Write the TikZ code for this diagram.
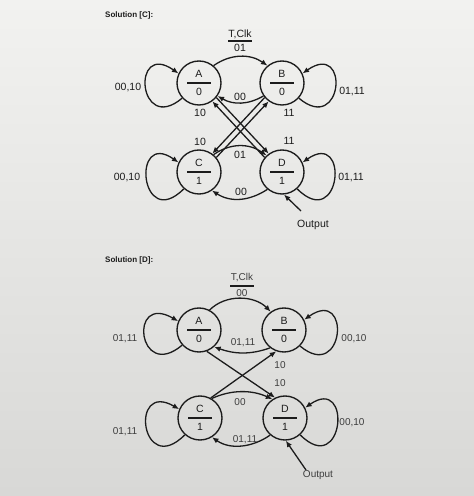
\documentclass[tikz,border=0pt]{standalone}
\usepackage{fontspec}
\setmainfont{Liberation Sans}
\usetikzlibrary{arrows.meta}
\definecolor{ink}{HTML}{1C1C1C}
\definecolor{bgtop}{HTML}{F2F2F0}
\definecolor{bgbot}{HTML}{D8D8D6}
\tikzset{
  state/.style={circle, draw=ink, line width=1.35pt, minimum size=44pt, inner sep=0pt},
  stlbl/.style={inner sep=0pt, text=ink, font=\fontsize{10.5}{12}\selectfont},
  lbl/.style={inner sep=0pt, text=ink, font=\fontsize{10.5}{12}\selectfont},
  lbltwo/.style={inner sep=0pt, text=ink!85, font=\fontsize{10}{12}\selectfont},
  ttl/.style={inner sep=0pt, anchor=west, text=ink, font=\fontsize{8}{9}\selectfont\bfseries},
  bar/.style={draw=ink, line width=1.1pt},
  arr/.style={draw=ink, line width=1.3pt, -{Latex[length=6.5pt,width=5.5pt]}},
}
\newcommand\mystate[5]{%
  \node[state] (#1) at (#2) {};
  \node[stlbl] (#1l) at ([yshift=9pt]#1.center) {#3};
  \node[stlbl] (#1d) at ([yshift=-9pt]#1.center) {#4};
  \draw[bar] ([xshift=-12pt]#1.center) -- ([xshift=12pt]#1.center);}
\begin{document}
\begin{tikzpicture}[x=1pt,y=1pt]
\shade[top color=bgtop, bottom color=bgbot] (0,0) rectangle (474,496);
\useasboundingbox (0,0) rectangle (474,496);

% ---------------- Solution [C] ----------------
\node[ttl] (t1) at (105,481) {Solution [C]:};
\node[lbl] (tc1) at (240,462) {T,Clk};
\draw[bar] (228,455) -- (252,455);
\node[lbl] (tc1v) at (240,448) {01};

\mystate{A}{199,413}{A}{0}{}
\mystate{B}{282,413}{B}{0}{}
\mystate{C}{199,324}{C}{1}{}
\mystate{D}{282,324}{D}{1}{}

% self loops
\draw[arr] (A.222) .. controls +(220:58) and +(145:58) .. (A.155);
\draw[arr] (B.-42) .. controls +(-40:58) and +(35:58) .. (B.25);
\draw[arr] (C.228) .. controls +(225:62) and +(145:58) .. (C.155);
\draw[arr] (D.-48) .. controls +(-45:62) and +(35:58) .. (D.25);

% arcs between A and B, C and D
\draw[arr] (A.50) .. controls +(35:21) and +(145:21) .. (B.130);
\draw[arr] (B.215) .. controls +(210:18) and +(-30:18) .. (A.325);
\draw[arr] (C.50) .. controls +(35:21) and +(145:21) .. (D.133);
\draw[arr] (D.230) .. controls +(213:22) and +(-33:22) .. (C.305);

% crossing double lines
\draw[arr] (A.-40) -- (D.126);
\draw[arr] (D.140) -- (A.-54);
\draw[arr] (C.40) -- (B.234);
\draw[arr] (B.220) -- (C.54);

% labels
\node[lbl] (l1) at (128,408) {00,10};
\node[lbl] (l2) at (352,404) {01,11};
\node[lbl] (l3) at (240,399) {00};
\node[lbl] (l4) at (200,383) {10};
\node[lbl] (l5) at (289,383) {11};
\node[lbl] (l6) at (200,354) {10};
\node[lbl] (l7) at (289,355) {11};
\node[lbl] (l8) at (240,341) {01};
\node[lbl] (l9) at (241,304) {00};
\node[lbl] (l10) at (127,318) {00,10};
\node[lbl] (l11) at (351,318) {01,11};

\coordinate (o1) at (301,285);
\draw[arr] (o1) -- (D.-85);
\node[lbl] (out1) at (313,271) {Output};

% ---------------- Solution [D] ----------------
\node[ttl] (t2) at (105,236) {Solution [D]:};
\node[lbltwo] (tc2) at (242,218) {T,Clk};
\draw[bar] (230,210) -- (254,210);
\node[lbltwo] (tc2v) at (242,203) {00};

\mystate{A2}{199,166}{A}{0}{}
\mystate{B2}{284,166}{B}{0}{}
\mystate{C2}{200,78}{C}{1}{}
\mystate{D2}{285,78}{D}{1}{}

\draw[arr] (A2.222) .. controls +(220:58) and +(150:58) .. (A2.157);
\draw[arr] (B2.-45) .. controls +(-40:58) and +(35:58) .. (B2.27);
\draw[arr] (C2.228) .. controls +(225:62) and +(150:58) .. (C2.157);
\draw[arr] (D2.-48) .. controls +(-45:62) and +(35:58) .. (D2.27);

\draw[arr] (A2.62) .. controls +(45:23) and +(135:23) .. (B2.126);
\draw[arr] (B2.232) .. controls +(200:21) and +(-20:21) .. (A2.312);
\draw[arr] (C2.59) .. controls +(25:22) and +(155:22) .. (D2.124);
\draw[arr] (D2.229) .. controls +(215:22) and +(-35:22) .. (C2.302);

\draw[arr] (A2.-70) -- (D2.116);
\draw[arr] (C2.62) -- (B2.250);

\node[lbltwo] (m1) at (125,157) {01,11};
\node[lbltwo] (m2) at (354,157) {00,10};
\node[lbltwo] (m3) at (243,153) {01,11};
\node[lbltwo] (m4) at (280,131) {10};
\node[lbltwo] (m5) at (280,113) {10};
\node[lbltwo] (m6) at (240,94) {00};
\node[lbltwo] (m7) at (245,56) {01,11};
\node[lbltwo] (m8) at (125,64) {01,11};
\node[lbltwo] (m9) at (352,73) {00,10};

\coordinate (o2) at (306,26);
\draw[arr] (o2) -- (D2.-88);
\node[lbltwo] (out2) at (318,21) {Output};
\end{tikzpicture}
\end{document}
